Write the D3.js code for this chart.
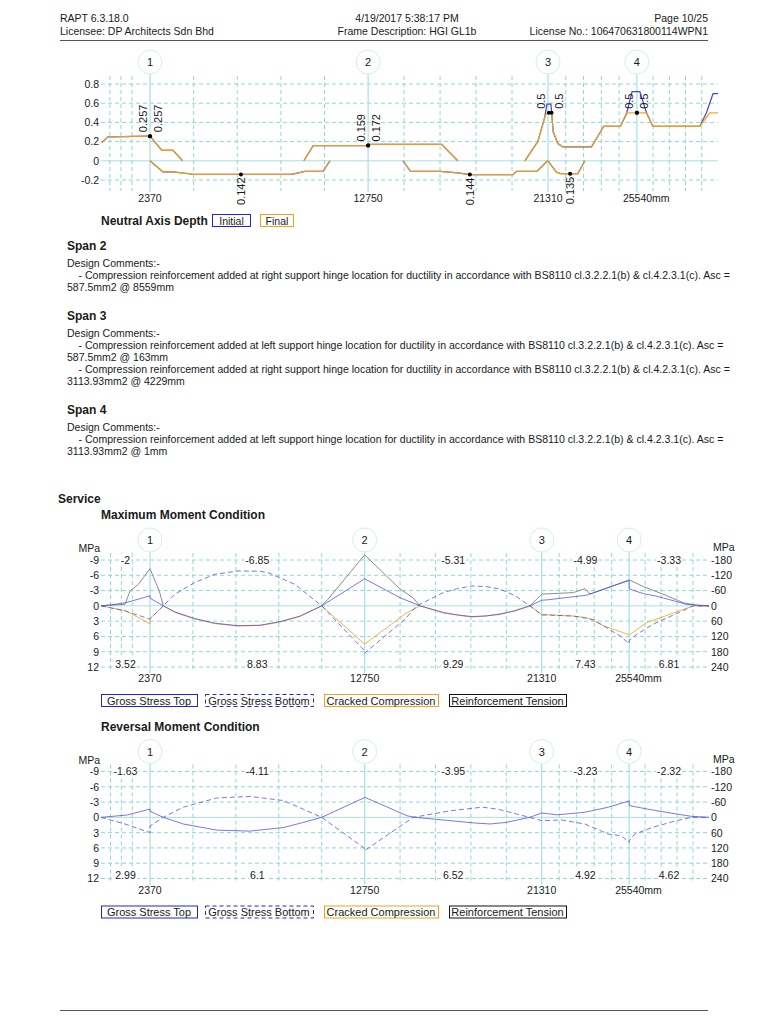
<!DOCTYPE html>
<html><head><meta charset="utf-8">
<script src="https://cdn.jsdelivr.net/npm/d3@7"></script>
<style>
html,body{margin:0;padding:0;background:#fff;}
svg{display:block;font-family:"Liberation Sans",Arial,sans-serif;}
</style></head><body>
<svg id="page" width="768" height="1024"></svg>
<script>
// ---------- DATA ----------
const beamLength = 29400;
const supports = [2370, 12750, 21310, 25540];
const supportNames = ["1", "2", "3", "4"];
const supportLabels = ["2370", "12750", "21310", "25540"];
const gridMM = [461, 985, 1512, 4446, 6522, 8598, 10674, 14462, 16174, 17886, 19598,
  22156, 23002, 23848, 24694, 26312, 27084, 27856, 28628];
const segmentBounds = [0, 2370, 12750, 21310, 25540, 29400];

// Neutral axis depth chart
const naTicks = [0.8, 0.6, 0.4, 0.2, 0, -0.2];
const naTickLabels = ["0.8", "0.6", "0.4", "0.2", "0", "-0.2"];
const naInitial = [
  [71,0.19],[371,0.25],[2370,0.257],[2926,0.11],[3463,0.11],[3925,0], null,
  [2370,0],[2988,-0.115],[3463,-0.115],[4414,-0.14],[6698,-0.142],[9110,-0.142],[9743,-0.11],[10599,-0.11],[10932,0], null,
  [9695,0],[10137,0.159],[12750,0.159],[12750,0.172],[16245,0.172],[17021,0], null,
  [14404,0],[14771,-0.11],[16164,-0.11],[17021,-0.125],[17591,-0.144],[19637,-0.144],[19813,-0.11],[20779,-0.11],[21288,0], null,
  [20208,0],[20826,0.2],[21150,0.45],[21260,0.59],[21450,0.59],[21560,0.3],[21778,0.18],[22016,0.145],[23381,0.145],[23966,0.36],[24760,0.36],[25046,0.49],[25312,0.72],[25680,0.72],[25997,0.5],[26297,0.36],[28533,0.36],[28850,0.5],[29165,0.7],[29400,0.7], null,
  [21310,0],[21716,-0.12],[21954,-0.135],[22730,-0.135],[23063,0]
];
const naFinal = [
  [71,0.19],[371,0.25],[2370,0.257],[2926,0.11],[3463,0.11],[3925,0], null,
  [2370,0],[2988,-0.115],[3463,-0.115],[4414,-0.14],[6698,-0.142],[9110,-0.142],[9743,-0.11],[10599,-0.11],[10932,0], null,
  [9695,0],[10137,0.159],[12750,0.159],[12750,0.172],[16245,0.172],[17021,0], null,
  [14404,0],[14771,-0.11],[16164,-0.11],[17021,-0.125],[17591,-0.144],[19637,-0.144],[19813,-0.11],[20779,-0.11],[21288,0], null,
  [20208,0],[20826,0.2],[21193,0.48],[21310,0.5],[21480,0.5],[21560,0.3],[21778,0.18],[22016,0.145],[23381,0.145],[23966,0.36],[24760,0.36],[25046,0.5],[26011,0.5],[26297,0.36],[28533,0.36],[29008,0.5],[29400,0.5], null,
  [21310,0],[21716,-0.12],[21954,-0.135],[22730,-0.135],[23063,0]
];
// [mm, value, label, side]  side: -1 left/above, 1 right/above, 0 below
const naMarks = [
  [2370,0.257,"0.257",-1],[2370,0.257,"0.257",1],
  [12750,0.159,"0.159",-1],[12750,0.159,"0.172",1],
  [6698,-0.142,"0.142",0],[17591,-0.144,"0.144",0],
  [21350,0.5,"0.5",-1],[21480,0.5,"0.5",1],
  [22363,-0.135,"0.135",0],
  [25540,0.5,"0.5",-1],[25540,0.5,"0.5",1]
];

// Service charts
const stressTicks = [-9, -6, -3, 0, 3, 6, 9, 12];
const rebarTicks = [-180, -120, -60, 0, 60, 120, 180, 240];
const legendNames = ["Gross Stress Top", "Gross Stress Bottom", "Cracked Compression", "Reinforcement Tension"];

const maxTop = [[0,0],[677,-0.3],[1161,-0.6],[1804,-1.3],[2370,-2.0],[2370,-1.5],[3013,0],[3578,1.2],[4545,2.5],[5513,3.4],[6625,3.9],[7689,3.8],[8656,3.1],[9623,2.0],[10672,0],[12750,-5.31],[14458,-1.6],[15426,0],[16553,1.3],[17250,1.8],[17925,2.1],[18600,2.0],[19294,1.6],[20019,1.0],[20745,0],[21310,-1.1],[21630,-1.2],[23486,-2.1],[25540,-4.99],[25540,-3.33],[26223,-2.4],[26871,-1.9],[28322,-0.3],[29400,0]];
const maxBottom = [[0,0],[1161,1.0],[2370,2.6],[3013,0],[3578,-2.3],[4545,-4.6],[5513,-6.2],[6625,-6.85],[7689,-6.8],[8090,-6.5],[9381,-4.2],[10672,0],[12750,8.83],[12750,9.29],[14700,2.6],[15266,0],[16553,-2.6],[17250,-3.4],[17925,-3.9],[18600,-3.8],[19294,-3.3],[20019,-2.0],[20745,0],[21310,1.8],[21630,1.8],[22839,2.0],[23806,2.7],[25097,5.9],[25540,7.43],[25540,6.81],[25900,5.6],[26707,3.6],[28641,0],[29400,0]];
const maxCracked = [[0,0],[1161,0.9],[2370,3.52],[2370,2.5],[3013,0],[3578,1.3],[4545,2.6],[5513,3.5],[6625,3.95],[7689,3.85],[8656,3.2],[9623,2.1],[10672,0],[12750,7.5],[14700,1.6],[15426,0],[16553,1.4],[17925,2.2],[19294,1.7],[20745,0],[21310,1.7],[22839,2.0],[23486,2.3],[24300,3.9],[25540,5.7],[26388,3.3],[28641,0],[29400,0]];
const maxRebar = [[0,0],[1161,-6],[1402,-58],[1804,-84],[2370,-146],[2819,-58],[3013,0], null,
  [10672,0],[10977,-26],[12750,-200],[14458,-66],[15087,-32],[15426,0], null,
  [20745,0],[21310,-46],[22839,-52],[23404,-68],[23646,-46],[25540,-102],[26223,-76],[27350,-40],[28160,-12],[28950,0],[29400,0]];
const maxMinLabels = ["-2", "-6.85", "-5.31", "-4.99", "-3.33"];
const maxMaxLabels = ["3.52", "8.83", "9.29", "7.43", "6.81"];

const revTop = [[0,0],[1265,-0.46],[2370,-1.63],[2370,-1.2],[3013,0],[3980,1.3],[5595,2.5],[7205,2.7],[8815,2.0],[9783,1.0],[10672,0],[12750,-3.9],[12750,-3.95],[14810,-0.3],[15192,0],[16909,0.66],[18054,1.1],[18817,1.3],[19580,1.0],[20725,0],[21310,-0.85],[22061,-0.5],[23396,-1.0],[24540,-2.0],[25540,-3.23],[25540,-2.32],[26457,-1.6],[27602,-0.8],[28556,-0.2],[29400,0]];
const revBottom = [[0,0],[1161,1.3],[2370,2.99],[2370,1.7],[3013,0],[3980,-2.0],[5595,-3.8],[7205,-4.11],[8815,-3.3],[9783,-1.6],[10672,0],[12750,6.1],[12750,6.52],[15097,0],[16909,-1.3],[18435,-2.0],[19200,-1.6],[20725,0],[21310,0.66],[22251,0.5],[23396,1.3],[24540,3.3],[25160,3.6],[25540,4.92],[25540,4.62],[25800,3.3],[26650,2.0],[27800,0.66],[28560,0],[29400,0]];
const revCracked = [];
const revRebar = [];
const revMinLabels = ["-1.63", "-4.11", "-3.95", "-3.23", "-2.32"];
const revMaxLabels = ["2.99", "6.1", "6.52", "4.92", "4.62"];

// ---------- STYLE ----------
const GRID = "#8ed8d8", SUP = "#a4e2e2", CIRC = "#d4eeee";
const BLUE = "#4343e0", ORANGE = "#f2a11a", GREY = "#8c8c8c", TXT = "#1a1a1a";

const svg = d3.select("#page");

function text(x, y, s, o = {}) {
  return svg.append("text").attr("x", x).attr("y", y).text(s)
    .attr("font-size", o.size || 10.5).attr("fill", o.fill || TXT)
    .attr("font-weight", o.bold ? "bold" : null)
    .attr("text-anchor", o.anchor || "start");
}

// ---------- HEADER ----------
text(60, 22, "RAPT 6.3.18.0");
text(60, 35, "Licensee: DP Architects Sdn Bhd");
text(407, 22, "4/19/2017 5:38:17 PM", {anchor: "middle"});
text(407, 35, "Frame Description: HGI GL1b", {anchor: "middle"});
text(708, 22, "Page 10/25", {anchor: "end"});
text(708, 35, "License No.: 106470631800114WPN1", {anchor: "end"});
svg.append("line").attr("x1", 60).attr("x2", 708).attr("y1", 40.5).attr("y2", 40.5).attr("stroke", "#555").attr("stroke-width", 1);
svg.append("line").attr("x1", 60).attr("x2", 708).attr("y1", 1010.5).attr("y2", 1010.5).attr("stroke", "#555").attr("stroke-width", 1);

// ---------- NEUTRAL AXIS CHART ----------
const xNA = d3.scaleLinear().domain([0, beamLength]).range([100.2, 718]);
const yNA = d3.scaleLinear().domain([-0.2, 0.8]).range([180, 84]);
{
  const g = svg.append("g");
  naTicks.forEach(t => {
    g.append("line").attr("x1", 101).attr("x2", 718).attr("y1", yNA(t)).attr("y2", yNA(t))
      .attr("stroke", t === 0 ? SUP : GRID).attr("stroke-width", 1)
      .attr("stroke-dasharray", t === 0 ? null : "4,3");
  });
  gridMM.forEach(m => {
    g.append("line").attr("x1", xNA(m)).attr("x2", xNA(m)).attr("y1", 76).attr("y2", 191)
      .attr("stroke", GRID).attr("stroke-dasharray", "4,3");
  });
  supports.forEach((s, i) => {
    g.append("line").attr("x1", xNA(s)).attr("x2", xNA(s)).attr("y1", 74).attr("y2", 192).attr("stroke", SUP).attr("stroke-width", 1.2);
    g.append("circle").attr("cx", xNA(s)).attr("cy", 62).attr("r", 12).attr("fill", "#fff").attr("stroke", CIRC);
    g.append("text").attr("x", xNA(s)).attr("y", 66).attr("text-anchor", "middle").attr("font-size", 11).attr("fill", TXT).text(supportNames[i]);
  });
  const ax = g.append("g").attr("transform", "translate(100,0)")
    .call(d3.axisLeft(yNA).tickValues(naTicks).tickFormat((d, i) => naTickLabels[i]).tickSize(0).tickPadding(1));
  ax.select(".domain").remove();
  ax.selectAll("text").attr("font-size", 10.5).attr("fill", TXT).attr("font-family", "Liberation Sans, Arial, sans-serif");
  supports.forEach((s, i) => {
    const t = g.append("text").attr("y", 202).attr("font-size", 10.5).attr("fill", TXT);
    if (i === supports.length - 1) {
      t.attr("x", xNA(s) - 14).text(supportLabels[i] + "mm");
    } else t.attr("x", xNA(s)).attr("text-anchor", "middle").text(supportLabels[i]);
  });
  const line = d3.line().defined(d => d !== null).x(d => xNA(d[0])).y(d => yNA(d[1]));
  g.append("path").attr("d", line(naInitial)).attr("fill", "none").attr("stroke", BLUE).attr("stroke-width", 1.2);
  g.append("path").attr("d", line(naFinal)).attr("fill", "none").attr("stroke", ORANGE).attr("stroke-width", 1.3).attr("stroke-opacity", 0.95);
  naMarks.forEach(m => {
    const cx = xNA(m[0]), cy = yNA(m[1]);
    g.append("circle").attr("cx", cx).attr("cy", cy).attr("r", 2).attr("fill", "#000");
    const lx = m[3] === 0 ? cx : cx + m[3] * 7.5;
    const ly = m[3] === 0 ? cy + 3 : cy - 4;
    g.append("text").attr("transform", `translate(${lx},${ly}) rotate(-90)`)
      .attr("text-anchor", m[3] === 0 ? "end" : "start").attr("dominant-baseline", "central")
      .attr("font-size", 11).attr("fill", TXT).text(m[2]);
  });
  // legend
  text(101, 225, "Neutral Axis Depth", {bold: true, size: 12});
  g.append("rect").attr("x", 212.5).attr("y", 214.5).attr("width", 38).attr("height", 12).attr("fill", "#fff").attr("stroke", "#2222dd");
  text(231.5, 224.5, "Initial", {anchor: "middle", size: 10.5});
  g.append("rect").attr("x", 260.5).attr("y", 214.5).attr("width", 33).attr("height", 12).attr("fill", "#fff").attr("stroke", ORANGE);
  text(277, 224.5, "Final", {anchor: "middle", size: 10.5});
}

// ---------- DESIGN COMMENTS ----------
const comment = "- Compression reinforcement added at %s support hinge location for ductility in accordance with BS8110 cl.3.2.2.1(b) & cl.4.2.3.1(c). Asc =";
const blocks = [
  {title: "Span 2", y: 250, lines: [["right", "587.5mm2 @ 8559mm"]]},
  {title: "Span 3", y: 320, lines: [["left", "587.5mm2 @ 163mm"], ["right", "3113.93mm2 @ 4229mm"]]},
  {title: "Span 4", y: 414, lines: [["left", "3113.93mm2 @ 1mm"]]}
];
blocks.forEach(b => {
  text(67, b.y, b.title, {bold: true, size: 12});
  text(67, b.y + 17, "Design Comments:-", {size: 10.5});
  let y = b.y + 28.5;
  b.lines.forEach(l => {
    text(78.5, y, comment.replace("%s", l[0]), {size: 10.55});
    text(67, y + 12, l[1], {size: 10.5});
    y += 24.5;
  });
});

// ---------- SERVICE ----------
text(58, 503, "Service", {bold: true, size: 12});

const xS = d3.scaleLinear().domain([0, beamLength]).range([101, 709]);
const plainFormat = d => String(d);

function drawService(cfg) {
  const top = cfg.top;
  const yS = d3.scaleLinear().domain([-9, 12]).range([top, top + 107]);
  const yR = d3.scaleLinear().domain([-180, 240]).range([top, top + 107]);
  const g = svg.append("g");
  text(101, top - 41, cfg.title, {bold: true, size: 12});
  stressTicks.forEach(t => {
    g.append("line").attr("x1", 101).attr("x2", 709).attr("y1", yS(t)).attr("y2", yS(t))
      .attr("stroke", t === 0 ? SUP : GRID).attr("stroke-dasharray", t === 0 ? null : "4,3");
  });
  gridMM.forEach(m => {
    g.append("line").attr("x1", xS(m)).attr("x2", xS(m)).attr("y1", top - 7).attr("y2", top + 112)
      .attr("stroke", GRID).attr("stroke-dasharray", "4,3");
  });
  supports.forEach((s, i) => {
    g.append("line").attr("x1", xS(s)).attr("x2", xS(s)).attr("y1", top - 8).attr("y2", top + 113).attr("stroke", SUP).attr("stroke-width", 1.2);
    g.append("circle").attr("cx", xS(s)).attr("cy", top - 20).attr("r", 12).attr("fill", "#fff").attr("stroke", CIRC);
    g.append("text").attr("x", xS(s)).attr("y", top - 16).attr("text-anchor", "middle").attr("font-size", 11).attr("fill", TXT).text(supportNames[i]);
    const t = g.append("text").attr("y", top + 122).attr("font-size", 10.5).attr("fill", TXT);
    if (i === supports.length - 1) t.attr("x", xS(s) - 14).text(supportLabels[i] + "mm");
    else t.attr("x", xS(s)).attr("text-anchor", "middle").text(supportLabels[i]);
  });
  const axL = g.append("g").attr("transform", "translate(100,0)")
    .call(d3.axisLeft(yS).tickValues(stressTicks).tickFormat(plainFormat).tickSize(0).tickPadding(1));
  const axR = g.append("g").attr("transform", "translate(710,0)")
    .call(d3.axisRight(yR).tickValues(rebarTicks).tickFormat(plainFormat).tickSize(0).tickPadding(1));
  [axL, axR].forEach(a => {
    a.select(".domain").remove();
    a.selectAll("text").attr("font-size", 10.5).attr("fill", TXT).attr("font-family", "Liberation Sans, Arial, sans-serif");
  });
  text(100, top - 8, "MPa", {anchor: "end"});
  text(713, top - 9, "MPa");

  const line = d3.line().defined(d => d !== null).x(d => xS(d[0])).y(d => yS(d[1]));
  const lineR = d3.line().defined(d => d !== null).x(d => xS(d[0])).y(d => yR(d[1]));
  g.append("path").attr("d", lineR(cfg.rebar)).attr("fill", "none").attr("stroke", GREY).attr("stroke-width", 1);
  g.append("path").attr("d", line(cfg.cracked)).attr("fill", "none").attr("stroke", ORANGE).attr("stroke-width", 1).attr("stroke-opacity", 0.8);
  g.append("path").attr("d", line(cfg.bottom)).attr("fill", "none").attr("stroke", BLUE).attr("stroke-width", 0.9).attr("stroke-dasharray", "5,3").attr("stroke-opacity", 0.8);
  g.append("path").attr("d", line(cfg.topS)).attr("fill", "none").attr("stroke", BLUE).attr("stroke-width", 0.9).attr("stroke-opacity", 0.8);

  // span labels
  const mids = d3.range(5).map(i => (segmentBounds[i] + segmentBounds[i + 1]) / 2);
  [[cfg.minLabels, yS(-9)], [cfg.maxLabels, top + 104]].forEach(([labs, ly]) => {
    labs.forEach((s, i) => {
      const t = g.append("text").attr("x", xS(mids[i])).attr("y", ly).attr("dy", "0.35em")
        .attr("text-anchor", "middle").attr("font-size", 10.5).attr("fill", TXT).text(s);
      const bb = t.node().getBBox();
      g.insert("rect", () => t.node()).attr("x", bb.x - 1).attr("y", bb.y).attr("width", bb.width + 2).attr("height", bb.height).attr("fill", "#fff");
    });
  });

  // legend
  const lx = [[101, 96], [205, 108], [324, 114], [449, 117]];
  const ly = top + 134;
  legendNames.forEach((n, i) => {
    const [x, w] = lx[i];
    const r = g.append("rect").attr("x", x + 0.5).attr("y", ly + 0.5).attr("width", w).attr("height", 12).attr("fill", "#fff")
      .attr("stroke", [ "#2222dd", "#2222dd", ORANGE, "#111"][i]).attr("stroke-width", 1);
    if (i === 1) r.attr("stroke-dasharray", "4,3");
    g.append("text").attr("x", x + w / 2).attr("y", ly + 10.5).attr("text-anchor", "middle").attr("font-size", 11).attr("fill", TXT).text(n);
  });
}

drawService({top: 560, title: "Maximum Moment Condition", topS: maxTop, bottom: maxBottom, cracked: maxCracked, rebar: maxRebar, minLabels: maxMinLabels, maxLabels: maxMaxLabels});
drawService({top: 771.5, title: "Reversal Moment Condition", topS: revTop, bottom: revBottom, cracked: revCracked, rebar: revRebar, minLabels: revMinLabels, maxLabels: revMaxLabels});
</script>
</body></html>
